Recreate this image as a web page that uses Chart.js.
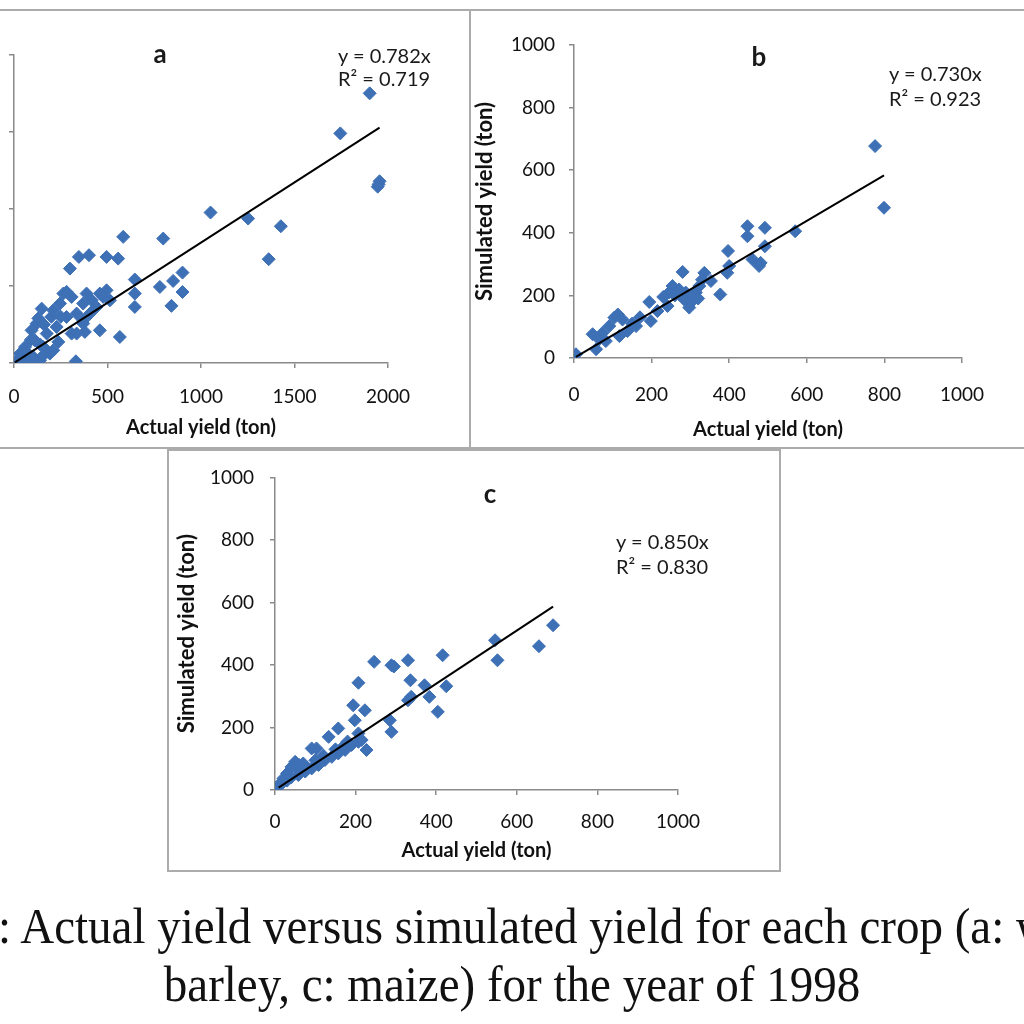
<!DOCTYPE html>
<html>
<head>
<meta charset="utf-8">
<script src="https://cdn.jsdelivr.net/npm/chart.js@4.4.1/dist/chart.umd.min.js"></script>
<style>
  html, body { margin: 0; padding: 0; width: 1024px; height: 1024px; overflow: hidden; background: #fff; }
  canvas { position: absolute; }
  .frame { position: absolute; border: 2px solid #acacac; box-sizing: border-box; }
  .txt { position: absolute; font-family: Lato, sans-serif; color: #1a1a1a; white-space: nowrap; line-height: 1; }
  .panel { font-weight: bold; font-size: 26px; transform: translate(-50%, -50%); }
  .eq { font-size: 20px; transform: translateY(-50%); }
  .cap { position: absolute; font-family: "Liberation Serif", serif; font-size: 47px; line-height: 1; white-space: nowrap; color: #111; transform: scaleY(1.1); transform-origin: left top; }
</style>
</head>
<body>
<div class="frame" style="left:-6px; top:9px; width:477px; height:440px;"></div>
<div class="frame" style="left:469px; top:9px; width:600px; height:440px;"></div>
<div class="frame" style="left:167px; top:449px; width:614px; height:423px;"></div>

<canvas id="chartA" width="559" height="438" style="left:-90px; top:10px;"></canvas>
<canvas id="chartB" width="560" height="438" style="left:470px; top:10px;"></canvas>
<canvas id="chartC" width="612" height="420" style="left:168px; top:450px;"></canvas>

<div class="txt panel" style="left:160px; top:53px;">a</div>
<div class="txt eq" style="left:338px; top:55px;">y = 0.782x</div>
<div class="txt eq" style="left:338px; top:78px;">R² = 0.719</div>

<div class="txt panel" style="left:759px; top:56px;">b</div>
<div class="txt eq" style="left:889px; top:73px;">y = 0.730x</div>
<div class="txt eq" style="left:889px; top:98px;">R² = 0.923</div>

<div class="txt panel" style="left:490px; top:493px;">c</div>
<div class="txt eq" style="left:616px; top:541px;">y = 0.850x</div>
<div class="txt eq" style="left:616px; top:566px;">R² = 0.830</div>

<div class="cap" style="left:-2px; top:900px;">: Actual yield versus simulated yield for each crop (a: w</div>
<div class="cap" style="left:0; top:958px; width:1024px; text-align:center;">barley, c: maize) for the year of 1998</div>

<script>
// panel a
const aActual = [1902, 1745, 1955, 1945, 1950, 1051, 1252, 1427, 1362, 798, 584, 347, 401, 495, 557, 299,
  646, 901, 851, 780, 901, 646, 646, 842, 459, 566, 331, 148, 264, 308, 370, 459, 495, 415, 246, 210,
  335, 281, 370, 308, 379, 228, 175, 121, 94, 112, 157, 59, 32, 5, 85, 139, 192, 210, 237, 103, 68, 32,
  157, 406, 441, 477, 513, 388, 281, 335, 370, 130, 160, 200, 90, 60, 140, 250];
const aSimulated = [1751, 1491, 1180, 1145, 1160, 977, 938, 888, 674, 808, 819, 689, 700, 689, 678, 613,
  542, 587, 533, 494, 461, 451, 364, 371, 212, 169, 11, 353, 451, 429, 386, 451, 472, 407, 386, 342,
  321, 299, 277, 191, 202, 234, 191, 256, 212, 147, 104, 104, 61, 6, 5, 17, 61, 82, 137, 39, 17, 28,
  50, 321, 364, 429, 407, 451, 462, 191, 256, 290, 250, 300, 150, 80, 120, 300];
const aSlope = 0.782;
const aTicksX = [0, 500, 1000, 1500, 2000];
const aTicksY = [0, 500, 1000, 1500, 2000];

// panel b
const bActual = [776, 799, 570, 447, 447, 492, 492, 460, 481, 477, 397, 395, 400, 377, 353, 336, 280, 254,
  245, 241, 288, 301, 297, 314, 323, 271, 284, 194, 198, 160, 113, 104, 125, 117, 91, 48, 65, 57, 82,
  138, 5, 74, 260, 300, 230, 150, 170, 215, 320, 330];
const bSimulated = [677, 480, 405, 421, 389, 416, 357, 315, 304, 294, 342, 272, 294, 203, 246, 272, 275, 230,
  209, 166, 209, 177, 161, 209, 230, 219, 187, 179, 118, 102, 139, 129, 123, 70, 102, 76, 60, 28, 54,
  86, 12, 81, 200, 200, 195, 110, 130, 150, 190, 250];
const bSlope = 0.730;
const bTicksX = [0, 200, 400, 600, 800, 1000];
const bTicksY = [0, 200, 400, 600, 800, 1000];

// panel c
const cActual = [690, 655, 546, 552, 416, 425, 330, 289, 295, 246, 336, 371, 383, 330, 338, 404, 285, 289,
  207, 194, 223, 198, 157, 133, 91, 103, 227, 207, 190, 174, 157, 141, 124, 108, 91, 75, 58, 50, 41, 30,
  21, 13, 9, 207, 215, 120, 100, 80, 60, 40, 30, 20, 150, 170, 180, 60, 70];
const cSimulated = [527, 460, 479, 415, 431, 332, 415, 399, 395, 410, 351, 335, 298, 287, 298, 250, 223, 186,
  343, 271, 255, 223, 197, 170, 133, 133, 128, 154, 144, 128, 117, 106, 96, 80, 69, 59, 48, 90, 74, 53,
  37, 21, 11, 181, 160, 110, 95, 70, 60, 40, 30, 25, 130, 140, 155, 80, 85];
const cSlope = 0.850;
const cTicksX = [0, 200, 400, 600, 800, 1000];
const cTicksY = [0, 200, 400, 600, 800, 1000];

const markerColor = "#3e70b6";
const axisColor = "#8a8a8a";
const textColor = "#111";

function makePanel(id, actual, simulated, slope, ticksX, ticksY, cfg) {
  const points = actual.map((x, i) => ({ x: x, y: simulated[i] }));
  const xMin = Math.min(...actual);
  const xMax = Math.max(...actual);
  const trend = [{ x: xMin, y: slope * xMin }, { x: xMax, y: slope * xMax }];

  const axis = (ticks, padTicks, padTitle, title, titleSize, size) => ({
    type: "linear",
    min: ticks[0],
    max: ticks[ticks.length - 1],
    afterBuildTicks: (scale) => { scale.ticks = ticks.map((v) => ({ value: v })); },
    afterFit: size,
    grid: { drawOnChartArea: false, drawTicks: true, tickLength: 5, color: axisColor, lineWidth: 1.5 },
    border: { display: true, color: axisColor, width: 1.5 },
    ticks: {
      padding: padTicks,
      color: textColor,
      font: { family: "Lato", size: 19 },
      callback: (v) => String(v),
    },
    title: {
      display: true,
      text: title,
      color: textColor,
      padding: { top: padTitle, bottom: padTitle },
      font: { family: "Lato", size: titleSize, weight: "bold" },
    },
  });

  return new Chart(document.getElementById(id), {
    type: "scatter",
    data: {
      datasets: [
        {
          data: trend,
          showLine: true,
          borderColor: "#000",
          borderWidth: 2,
          pointRadius: 0,
          order: 0,
        },
        {
          data: points,
          pointStyle: "rectRot",
          pointRadius: 6.5,
          backgroundColor: markerColor,
          borderColor: markerColor,
          borderWidth: 1,
          order: 1,
        },
      ],
    },
    options: {
      responsive: false,
      animation: false,
      devicePixelRatio: 1,
      layout: { autoPadding: false, padding: cfg.padding },
      plugins: { legend: { display: false }, tooltip: { enabled: false } },
      scales: {
        x: axis(ticksX, cfg.tickPadX, cfg.titlePadX, "Actual yield (ton)", 20, (s) => { s.height = cfg.xHeight; }),
        y: axis(ticksY, cfg.tickPadY, cfg.titlePadY, "Simulated yield (ton)", 22, (s) => { s.width = cfg.yWidth; }),
      },
    },
  });
}

makePanel("chartA", aActual, aSimulated, aSlope, aTicksX, aTicksY, {
  padding: { top: 45, right: 81, bottom: 0, left: 0 },
  xHeight: 85, yWidth: 104, tickPadX: 17, tickPadY: 14, titlePadX: 8, titlePadY: 2,
});
makePanel("chartB", bActual, bSimulated, bSlope, bTicksX, bTicksY, {
  padding: { top: 35, right: 68, bottom: 0, left: 0 },
  xHeight: 90, yWidth: 104, tickPadX: 20, tickPadY: 14, titlePadX: 6, titlePadY: 2,
});
makePanel("chartC", cActual, cSimulated, cSlope, cTicksX, cTicksY, {
  padding: { top: 27, right: 102, bottom: 0, left: 0 },
  xHeight: 80, yWidth: 107, tickPadX: 15, tickPadY: 16, titlePadX: 7, titlePadY: 6,
});
</script>
</body>
</html>
